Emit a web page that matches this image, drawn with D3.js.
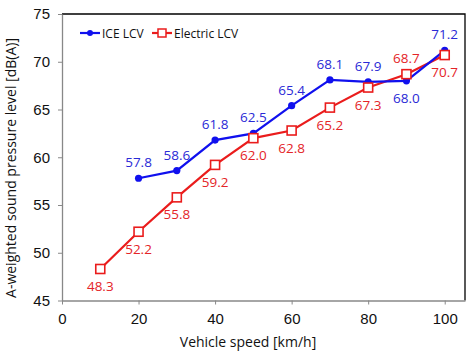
<!DOCTYPE html>
<html>
<head>
<meta charset="utf-8">
<script src="https://cdn.jsdelivr.net/npm/d3@7"></script>
<style>
  body { margin: 0; background: #fff; }
  svg { font-family: "Open Sans", "Noto Sans", sans-serif; }
</style>
</head>
<body>
<div id="vis"></div>
<script>
var speeds_ice = [20, 30, 40, 50, 60, 70, 80, 90, 100];
var ice_lcv = [57.8, 58.6, 61.8, 62.5, 65.4, 68.1, 67.9, 68.0, 71.2];
var speeds_ev = [10, 20, 30, 40, 50, 60, 70, 80, 90, 100];
var electric_lcv = [48.3, 52.2, 55.8, 59.2, 62.0, 62.8, 65.2, 67.3, 68.7, 70.7];
var x_ticks = [0, 20, 40, 60, 80, 100];
var y_ticks = [45, 50, 55, 60, 65, 70, 75];
// which labels sit on the other side of the point
var ice_flip = [68.0];
var ev_flip = [68.7];

var W = 474, H = 353;
var blue = "#1010ee", red = "#ea1c1c";
var blue_txt = "#2a2ad6", red_txt = "#e42428";

var scales = {
  x: d3.scaleLinear().domain([0, 105.3]).range([62, 465]),
  y: d3.scaleLinear().domain([45, 75]).range([300.5, 14])
};

var svg = d3.select("#vis").append("svg")
  .attr("width", W).attr("height", H);

// frame: top and right in black
svg.append("path")
  .attr("d", "M" + scales.x.range()[0] + "," + scales.y.range()[1] +
    "H" + scales.x.range()[1] + "V" + scales.y.range()[0])
  .attr("fill", "none").attr("stroke", "#000").attr("stroke-width", 1.3);

var x_axis = d3.axisBottom(scales.x).tickValues(x_ticks).tickSize(4).tickSizeOuter(0);
var gx = svg.append("g")
  .attr("transform", "translate(0," + scales.y.range()[0] + ")")
  .call(x_axis);
gx.select(".domain").attr("stroke", "#888").attr("stroke-width", 1.3);
gx.selectAll(".tick line").attr("stroke", "#888");
gx.selectAll("text").attr("font-size", 15).attr("fill", "#111").attr("y", 8).attr("dy", "1.05em");

var y_axis = d3.axisLeft(scales.y).tickValues(y_ticks).tickSize(4).tickSizeOuter(0);
var gy = svg.append("g")
  .attr("transform", "translate(" + scales.x.range()[0] + ",0)")
  .call(y_axis);
gy.select(".domain").attr("stroke", "#888").attr("stroke-width", 1.3);
gy.selectAll(".tick line").attr("stroke", "#888");
gy.selectAll("text").attr("font-size", 15).attr("fill", "#111").attr("x", -12);

svg.append("text")
  .attr("x", 248).attr("y", 347)
  .attr("text-anchor", "middle").attr("font-size", 14).attr("fill", "#111")
  .text("Vehicle speed [km/h]");

svg.append("text")
  .attr("transform", "translate(16,168)rotate(-90)")
  .attr("text-anchor", "middle").attr("font-size", 14).attr("fill", "#111")
  .text("A-weighted sound pressure level [dB(A)]");

var line = d3.line()
  .x(function(d) { return scales.x(d[0]); })
  .y(function(d) { return scales.y(d[1]); });

var ice = d3.zip(speeds_ice, ice_lcv);
var ev = d3.zip(speeds_ev, electric_lcv);

svg.append("path").datum(ev).attr("d", line)
  .attr("fill", "none").attr("stroke", red).attr("stroke-width", 2.2);
svg.append("path").datum(ice).attr("d", line)
  .attr("fill", "none").attr("stroke", blue).attr("stroke-width", 2.2);

svg.selectAll(".ice_pt").data(ice).enter().append("circle")
  .attr("class", "ice_pt")
  .attr("cx", function(d) { return scales.x(d[0]); })
  .attr("cy", function(d) { return scales.y(d[1]); })
  .attr("r", 3.6).attr("fill", blue);

svg.selectAll(".ev_pt").data(ev).enter().append("rect")
  .attr("class", "ev_pt")
  .attr("x", function(d) { return scales.x(d[0]) - 4.5; })
  .attr("y", function(d) { return scales.y(d[1]) - 4.5; })
  .attr("width", 9).attr("height", 9)
  .attr("fill", "#fff").attr("stroke", red).attr("stroke-width", 1.6);

svg.selectAll(".ice_lbl").data(ice).enter().append("text")
  .attr("class", "ice_lbl")
  .attr("x", function(d) { return scales.x(d[0]); })
  .attr("y", function(d) {
    return scales.y(d[1]) + (ice_flip.indexOf(d[1]) >= 0 ? 22 : -11);
  })
  .attr("text-anchor", "middle").attr("font-size", 13.5).attr("fill", blue_txt)
  .text(function(d) { return d[1].toFixed(1); });

svg.selectAll(".ev_lbl").data(ev).enter().append("text")
  .attr("class", "ev_lbl")
  .attr("x", function(d) { return scales.x(d[0]); })
  .attr("y", function(d) {
    return scales.y(d[1]) + (ev_flip.indexOf(d[1]) >= 0 ? -11 : 22);
  })
  .attr("text-anchor", "middle").attr("font-size", 13.5).attr("fill", red_txt)
  .text(function(d) { return d[1].toFixed(1); });

// legend
var leg = svg.append("g").attr("transform", "translate(80,33)");
leg.append("line").attr("x1", 0).attr("x2", 20).attr("stroke", blue).attr("stroke-width", 2.2);
leg.append("circle").attr("cx", 10).attr("r", 3).attr("fill", blue);
leg.append("text").attr("x", 22).attr("y", 4.5).attr("font-size", 12).attr("fill", "#111").text("ICE LCV");
leg.append("line").attr("x1", 72).attr("x2", 92).attr("stroke", red).attr("stroke-width", 2.2);
leg.append("rect").attr("x", 78).attr("y", -4).attr("width", 8).attr("height", 8)
  .attr("fill", "#fff").attr("stroke", red).attr("stroke-width", 1.5);
leg.append("text").attr("x", 94).attr("y", 4.5).attr("font-size", 12).attr("fill", "#111").text("Electric LCV");
</script>
</body>
</html>
